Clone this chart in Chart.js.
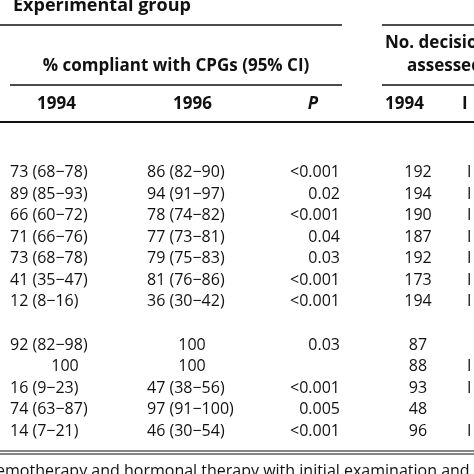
<!DOCTYPE html><html><head><meta charset="utf-8">
<script src="https://cdn.jsdelivr.net/npm/chart.js@4"></script>
<style>html,body{margin:0;padding:0;background:#fff}#w{width:474px;height:474px}</style></head>
<body><div id="w"><canvas id="c"></canvas></div>
<script>
const col1994 = ["73 (68\u221278)","89 (85\u221293)","66 (60\u221272)","71 (66\u221276)","73 (68\u221278)","41 (35\u221247)","12 (8\u221216)","","92 (82\u221298)","100","16 (9\u221223)","74 (63\u221287)","14 (7\u221221)"];
const col1996 = ["86 (82\u221290)","94 (91\u221297)","78 (74\u221282)","77 (73\u221281)","79 (75\u221283)","81 (76\u221286)","36 (30\u221242)","","100","100","47 (38\u221256)","97 (91\u2212100)","46 (30\u221254)"];
const colP = ["<0.001","0.02","<0.001","0.04","0.03","<0.001","<0.001","","0.03","","<0.001","0.005","<0.001"];
const colN1994 = ["192","194","190","187","192","173","194","","87","88","93","48","96"];
const colN1996 = ["I","I","I","I","I","I","I","","","I","I","","I"];
const rowY = [172,194,215,237,258,280,301,323,345,366,388,409,431];
const centered = [false,false,false,false,false,false,false,false,false,true,false,false,false];

const tablePlugin = {
  id:'table',
  afterDraw(chart){
    const ctx = chart.ctx, ys = chart.scales.y;
    ctx.save();
    ctx.fillStyle='#111'; ctx.strokeStyle='#111';
    const line=(x1,x2,y,w)=>{ctx.lineWidth=w;ctx.beginPath();ctx.moveTo(x1,ys.getPixelForValue(y));ctx.lineTo(x2,ys.getPixelForValue(y));ctx.stroke();};
    ctx.font='bold 18px "Open Sans"'; ctx.textBaseline='middle'; ctx.textAlign='left';
    ctx.fillText('Experimental group',13,ys.getPixelForValue(6));
    line(0,342,25,1.3); line(382,474,25,1.3);
    ctx.textAlign='center';
    ctx.font='bold 17px "Open Sans"';
    ctx.fillText('% compliant with CPGs (95% CI)',176,ys.getPixelForValue(66));
    ctx.textAlign='left';
    ctx.fillText('No. decisions',385,ys.getPixelForValue(43));
    ctx.fillText('assessed',407,ys.getPixelForValue(66));
    line(10,342,85,1.3); line(382,474,85,1.3);
    ctx.fillText('1994',37,ys.getPixelForValue(104));
    ctx.fillText('1996',173,ys.getPixelForValue(104));
    ctx.fillText('1994',385,ys.getPixelForValue(104));
    ctx.fillText('I',462,ys.getPixelForValue(104));
    ctx.font='bold italic 17px "Open Sans"'; ctx.textAlign='right';
    ctx.fillText('P',318,ys.getPixelForValue(104));
    line(0,474,122,1.8);
    ctx.font='16px "Open Sans"';
    rowY.forEach((y,i)=>{
      const py=ys.getPixelForValue(y);
      if(centered[i]){ctx.textAlign='center';ctx.fillText(col1994[i],65,py);}
      else {ctx.textAlign='left';ctx.fillText(col1994[i],10,py);}
      ctx.textAlign='left';
      if(col1996[i]==='100'){ctx.textAlign='center';ctx.fillText(col1996[i],192,py);}
      else ctx.fillText(col1996[i],147,py);
      ctx.textAlign='right'; ctx.fillText(colP[i],340,py);
      ctx.textAlign='center'; ctx.fillText(colN1994[i],418,py);
      ctx.textAlign='left'; ctx.fillText(colN1996[i],467,py);
    });
    line(0,474,451,1.2); line(0,474,454,1.2);
    ctx.textAlign='left';
    ctx.fillText('emotherapy and hormonal therapy with initial examination and',-4,ys.getPixelForValue(471));
    ctx.restore();
  }
};
new Chart(document.getElementById('c'),{
  type:'scatter',
  data:{datasets:[{data:[]}]},
  options:{responsive:true,maintainAspectRatio:false,animation:false,
    layout:{padding:0},
    plugins:{legend:{display:false},tooltip:{enabled:false}},
    scales:{x:{display:false,min:0,max:474},y:{display:false,min:0,max:474,reverse:true}}},
  plugins:[tablePlugin]
});
</script></body></html>
